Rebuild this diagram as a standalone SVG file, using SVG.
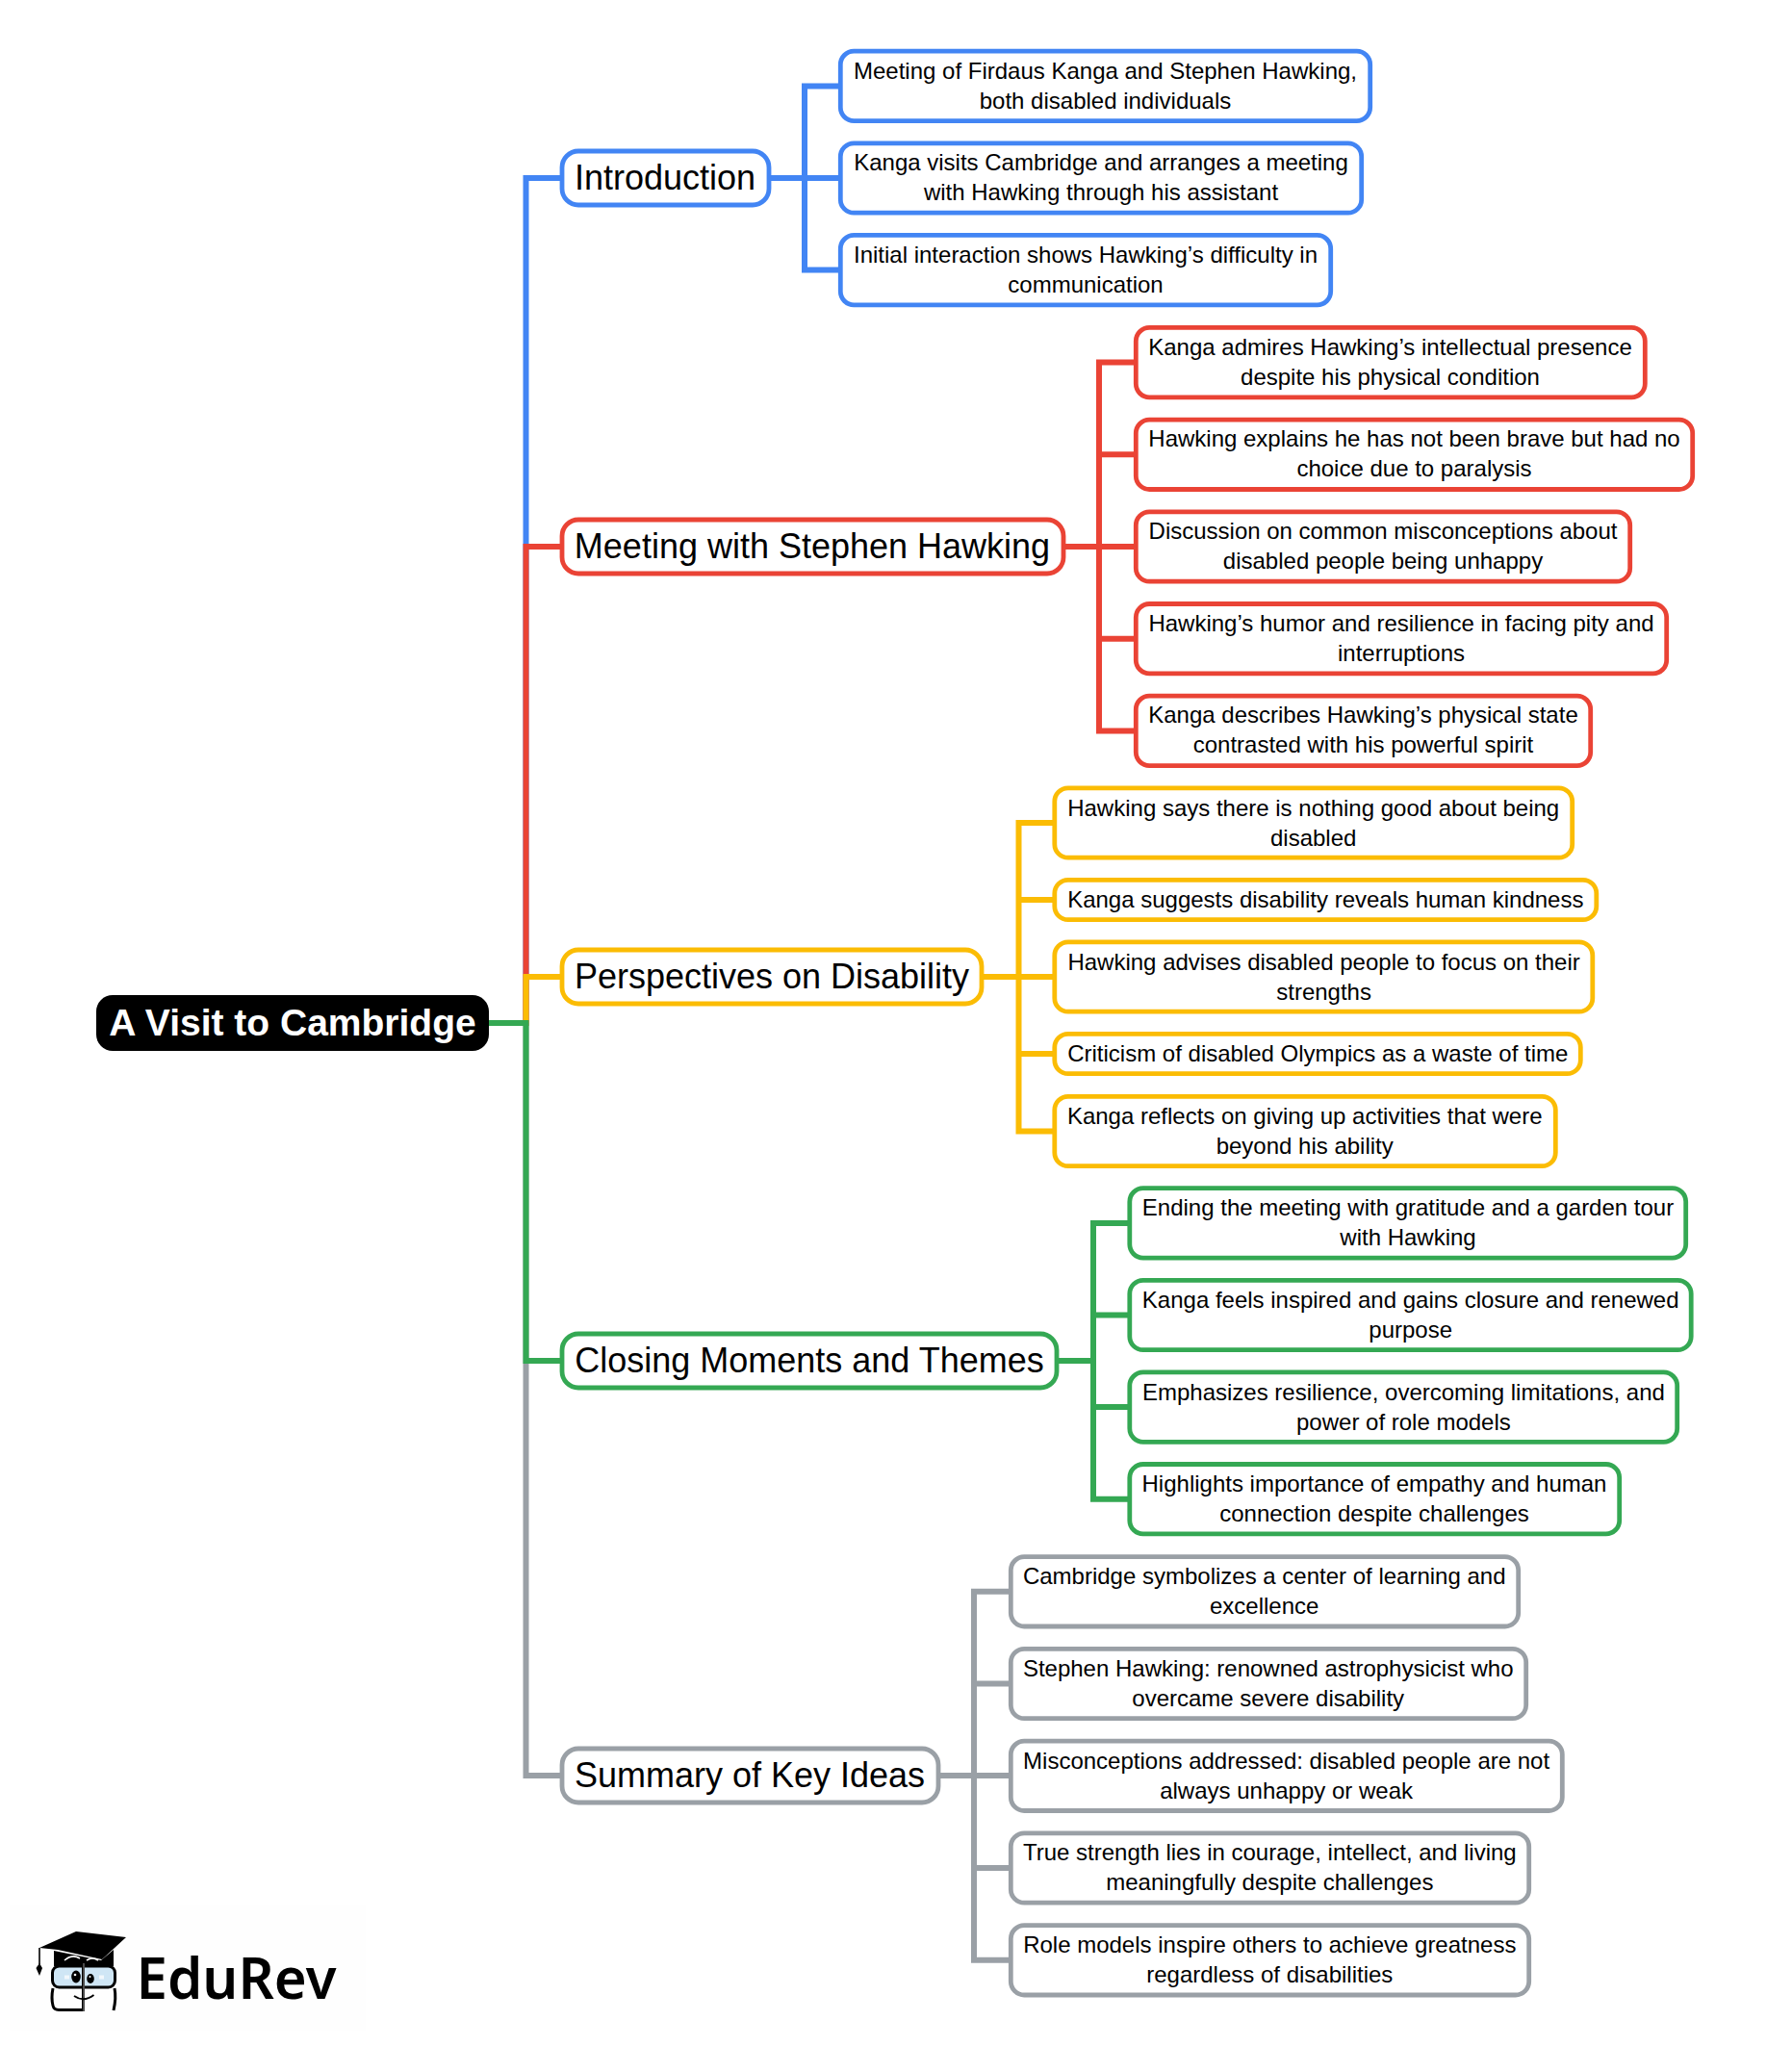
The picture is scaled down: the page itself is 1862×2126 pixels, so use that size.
<svg xmlns="http://www.w3.org/2000/svg" width="1862" height="2126" viewBox="0 0 1862 2126">
<style>
text{font-family:"Liberation Sans",Arial,sans-serif;fill:#000;text-anchor:middle}
.leaf text{font-size:24px}
.head text{font-size:36px}
rect.n{fill:#fff;stroke-width:4.8}
.c{fill:none;stroke-width:6;stroke-linejoin:miter;stroke-linecap:butt}
.blue rect.n{stroke:#4285F4}.red rect.n{stroke:#EA4335}.yellow rect.n{stroke:#FBBC04}.green rect.n{stroke:#34A853}.grey rect.n{stroke:#9AA0A6}
.c.blue{stroke:#4285F4}.c.red{stroke:#EA4335}.c.yellow{stroke:#FBBC04}.c.green{stroke:#34A853}.c.grey{stroke:#9AA0A6}
</style>
<rect width="1862" height="2126" fill="#fff"/>
<g id="connectors">
<path class="c blue" d="M508,1063H546.5V185H584M799,185H873M873,89.4H836V280.6H873"/>
<path class="c red" d="M508,1063H546.5V568H584M1105,568H1180M1180,376.6H1142V759.4H1180M1142,472.3H1180M1142,663.7H1180"/>
<path class="c yellow" d="M508,1063H546.5V1015H584M1020,1015H1096M1096,855H1058.5V1175.5H1096M1058.5,935H1096M1058.5,1095H1096"/>
<path class="c grey" d="M546.5,1063V1845H584M975,1845H1050M1050,1653.8H1012V2036.8H1050M1012,1749.5H1050M1012,1941H1050"/>
<path class="c green" d="M508,1063H546.5V1414H584M1098,1414H1136M1174,1270.9H1136V1557.7H1174M1136,1366.5H1174M1136,1462.1H1174"/>
</g>
<g id="root"><rect x="100" y="1034" width="408" height="58" rx="17" fill="#000"/><text x="304" y="1076" font-size="39" font-weight="700" style="fill:#fff">A Visit to Cambridge</text></g>
<g id="b1" class="head blue"><rect class="n" x="584" y="157" width="215" height="56" rx="17"/><text x="691" y="196.7">Introduction</text></g>
<g id="b2" class="head red"><rect class="n" x="584" y="540" width="521" height="56" rx="17"/><text x="844" y="579.5">Meeting with Stephen Hawking</text></g>
<g id="b3" class="head yellow"><rect class="n" x="584" y="987" width="436" height="56" rx="17"/><text x="802" y="1026.7">Perspectives on Disability</text></g>
<g id="b4" class="head green"><rect class="n" x="584" y="1386" width="514" height="56" rx="17"/><text x="841" y="1425.7">Closing Moments and Themes</text></g>
<g id="b5" class="head grey"><rect class="n" x="584" y="1817" width="391" height="56" rx="17"/><text x="779" y="1856.7">Summary of Key Ideas</text></g>

<g id="l1" class="leaf blue"><rect class="n" x="873.3" y="53.2" width="550.4" height="72.4" rx="14"/><text><tspan x="1148.5" y="82">Meeting of Firdaus Kanga and Stephen Hawking,</tspan><tspan x="1148.5" y="113">both disabled individuals</tspan></text></g>
<g id="l2" class="leaf blue"><rect class="n" x="873.3" y="148.8" width="541.4" height="72.4" rx="14"/><text><tspan x="1144" y="177">Kanga visits Cambridge and arranges a meeting</tspan><tspan x="1144" y="208">with Hawking through his assistant</tspan></text></g>
<g id="l3" class="leaf blue"><rect class="n" x="873.3" y="244.4" width="509.4" height="72.4" rx="14"/><text><tspan x="1128" y="273">Initial interaction shows Hawking’s difficulty in</tspan><tspan x="1128" y="304">communication</tspan></text></g>

<g id="l4" class="leaf red"><rect class="n" x="1180.3" y="340.4" width="529" height="72.4" rx="14"/><text><tspan x="1444.5" y="369">Kanga admires Hawking’s intellectual presence</tspan><tspan x="1444.5" y="400">despite his physical condition</tspan></text></g>
<g id="l5" class="leaf red"><rect class="n" x="1180.3" y="436.1" width="578.4" height="72.4" rx="14"/><text><tspan x="1469.5" y="464">Hawking explains he has not been brave but had no</tspan><tspan x="1469.5" y="495">choice due to paralysis</tspan></text></g>
<g id="l6" class="leaf red"><rect class="n" x="1180.3" y="531.8" width="513.4" height="72.4" rx="14"/><text><tspan x="1437" y="560">Discussion on common misconceptions about</tspan><tspan x="1437" y="591">disabled people being unhappy</tspan></text></g>
<g id="l7" class="leaf red"><rect class="n" x="1180.3" y="627.5" width="551.4" height="72.4" rx="14"/><text><tspan x="1456" y="655.5">Hawking’s humor and resilience in facing pity and</tspan><tspan x="1456" y="686.5">interruptions</tspan></text></g>
<g id="l8" class="leaf red"><rect class="n" x="1180.3" y="723.2" width="472.4" height="72.4" rx="14"/><text><tspan x="1416.5" y="751">Kanga describes Hawking’s physical state</tspan><tspan x="1416.5" y="782">contrasted with his powerful spirit</tspan></text></g>

<g id="l9" class="leaf yellow"><rect class="n" x="1095.8" y="818.8" width="537.9" height="72.4" rx="14"/><text><tspan x="1364.7" y="847.5">Hawking says there is nothing good about being</tspan><tspan x="1364.7" y="878.5">disabled</tspan></text></g>
<g id="l10" class="leaf yellow"><rect class="n" x="1095.8" y="914.3" width="563" height="41.4" rx="14"/><text><tspan x="1377.3" y="943.3">Kanga suggests disability reveals human kindness</tspan></text></g>
<g id="l11" class="leaf yellow"><rect class="n" x="1095.8" y="978.8" width="559" height="72.4" rx="14"/><text><tspan x="1375.6" y="1007.8">Hawking advises disabled people to focus on their</tspan><tspan x="1375.6" y="1038.8">strengths</tspan></text></g>
<g id="l12" class="leaf yellow"><rect class="n" x="1095.8" y="1074.3" width="546.5" height="41.4" rx="14"/><text><tspan x="1369.3" y="1103.3">Criticism of disabled Olympics as a waste of time</tspan></text></g>
<g id="l13" class="leaf yellow"><rect class="n" x="1095.8" y="1139.3" width="520.5" height="72.4" rx="14"/><text><tspan x="1355.7" y="1168">Kanga reflects on giving up activities that were</tspan><tspan x="1355.7" y="1199">beyond his ability</tspan></text></g>

<g id="l14" class="leaf green"><rect class="n" x="1173.8" y="1234.7" width="577.9" height="72.4" rx="14"/><text><tspan x="1463" y="1263">Ending the meeting with gratitude and a garden tour</tspan><tspan x="1463" y="1294">with Hawking</tspan></text></g>
<g id="l15" class="leaf green"><rect class="n" x="1173.8" y="1330.3" width="583.4" height="72.4" rx="14"/><text><tspan x="1465.7" y="1359">Kanga feels inspired and gains closure and renewed</tspan><tspan x="1465.7" y="1390">purpose</tspan></text></g>
<g id="l16" class="leaf green"><rect class="n" x="1173.8" y="1425.9" width="568.9" height="72.4" rx="14"/><text><tspan x="1458.4" y="1454.9">Emphasizes resilience, overcoming limitations, and</tspan><tspan x="1458.4" y="1485.9">power of role models</tspan></text></g>
<g id="l17" class="leaf green"><rect class="n" x="1173.8" y="1521.5" width="508.9" height="72.4" rx="14"/><text><tspan x="1428" y="1549.5">Highlights importance of empathy and human</tspan><tspan x="1428" y="1580.5">connection despite challenges</tspan></text></g>

<g id="l18" class="leaf grey"><rect class="n" x="1050.3" y="1617.6" width="527.4" height="72.4" rx="14"/><text><tspan x="1313.7" y="1645.6">Cambridge symbolizes a center of learning and</tspan><tspan x="1313.7" y="1676.6">excellence</tspan></text></g>
<g id="l19" class="leaf grey"><rect class="n" x="1050.3" y="1713.3" width="535.4" height="72.4" rx="14"/><text><tspan x="1317.7" y="1742">Stephen Hawking: renowned astrophysicist who</tspan><tspan x="1317.7" y="1773">overcame severe disability</tspan></text></g>
<g id="l20" class="leaf grey"><rect class="n" x="1050.3" y="1809.1" width="573" height="72.4" rx="14"/><text><tspan x="1336.6" y="1837.6">Misconceptions addressed: disabled people are not</tspan><tspan x="1336.6" y="1868.6">always unhappy or weak</tspan></text></g>
<g id="l21" class="leaf grey"><rect class="n" x="1050.3" y="1904.8" width="538.4" height="72.4" rx="14"/><text><tspan x="1319.3" y="1933">True strength lies in courage, intellect, and living</tspan><tspan x="1319.3" y="1964">meaningfully despite challenges</tspan></text></g>
<g id="l22" class="leaf grey"><rect class="n" x="1050.3" y="2000.6" width="538.4" height="72.4" rx="14"/><text><tspan x="1319.3" y="2029">Role models inspire others to achieve greatness</tspan><tspan x="1319.3" y="2060">regardless of disabilities</tspan></text></g>

<g id="logo">
<rect x="10" y="1980" width="370" height="130" fill="#fefefe"/>
<path d="M56,2027L105,2037L118,2026V2043H56Z" fill="#000"/>
<path d="M79,2007L131,2013L106,2036L60,2026L41,2024Z" fill="#000"/>
<path d="M41,2024V2041" stroke="#000" stroke-width="1.600" fill="none"/>
<path d="M41,2040L44,2045L41,2053L37.500,2045Z" fill="#000"/>
<path d="M67,2037Q75,2030 83,2035M90,2037Q96,2033 102,2037" stroke="#fff" stroke-width="1.600" fill="none"/>
<rect x="54.500" y="2043" width="65" height="22" rx="7" fill="#cfe6f5" stroke="#000" stroke-width="3"/>
<path d="M55,2066Q53,2076 55,2084Q56,2088.500 61,2088.500H85M119,2066Q121,2076 118,2089" stroke="#000" stroke-width="3" fill="none"/>
<path d="M86.500,2040V2090" stroke="#000" stroke-width="3" fill="none"/>
<path d="M87,2040V2090" stroke="#fff" stroke-width="0.600" fill="none"/>
<ellipse cx="79" cy="2054" rx="4.800" ry="6.500" fill="#000"/>
<ellipse cx="94" cy="2056" rx="3.800" ry="5" fill="#000"/>
<circle cx="78" cy="2052" r="1.300" fill="#fff"/><circle cx="93.500" cy="2054" r="1" fill="#fff"/>
<path d="M67,2052.500h5v4h-5zM103,2052.500h5v4h-5z" fill="#f2f8fc"/>
<path d="M77,2074Q87,2081 97.500,2073" stroke="#000" stroke-width="1.800" fill="none"/>
<text x="141.500" y="2077" font-size="60" font-weight="600" textLength="208" lengthAdjust="spacingAndGlyphs" style="font-family:'Noto Sans','Open Sans',sans-serif;text-anchor:start">EduRev</text>
</g>
</svg>
